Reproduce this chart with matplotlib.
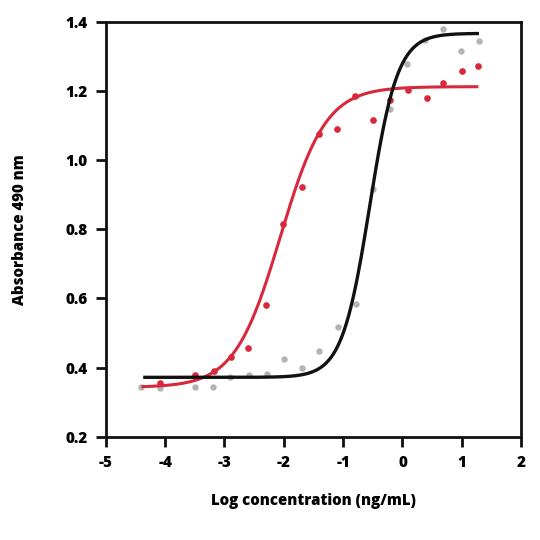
import numpy as np
import matplotlib
matplotlib.use("Agg")
import matplotlib.pyplot as plt

# data
red_x = [-4.085, -3.49, -3.18, -2.89, -2.60, -2.30, -2.01, -1.70, -1.41, -1.11,
         -0.80, -0.50, -0.21, 0.10, 0.41, 0.68, 1.00, 1.28]
red_y = [0.357, 0.378, 0.390, 0.430, 0.457, 0.582, 0.816, 0.923, 1.076, 1.090,
         1.186, 1.116, 1.173, 1.203, 1.178, 1.224, 1.257, 1.272]

gray_x = [-4.40, -4.085, -3.49, -3.20, -2.90, -2.59, -2.29, -2.00, -1.70, -1.41,
          -1.085, -0.78, -0.50, -0.21, 0.08, 0.38, 0.69, 0.98, 1.29]
gray_y = [0.345, 0.341, 0.344, 0.344, 0.373, 0.380, 0.382, 0.425, 0.400, 0.448,
          0.517, 0.583, 0.917, 1.147, 1.277, 1.347, 1.380, 1.316, 1.345]

# 4PL fit parameters (bottom, top, log EC50, hill slope), x range of the fit
red_fit = [0.343, 1.212, -2.06, 1.13]
red_range = [-4.40, 1.28]
black_fit = [0.372, 1.366, -0.55, 1.85]
black_range = [-4.37, 1.29]

x_ticks = [-5, -4, -3, -2, -1, 0, 1, 2]
y_ticks = [0.2, 0.4, 0.6, 0.8, 1.0, 1.2, 1.4]

RED = "#d8283c"
GRAY = "#b3b3b3"

plt.rcParams['font.family'] = ['Open Sans', 'DejaVu Sans']
plt.rcParams['font.weight'] = 'bold'


def four_pl(x, p):
    bottom, top, c, h = p
    return bottom + (top - bottom) / (1 + 10 ** ((c - x) * h))


fig = plt.figure(figsize=(5.4, 5.4), dpi=100)
ax = fig.add_axes([0.196, 0.191, 0.769, 0.769])

ax.plot(gray_x, gray_y, 'o', color=GRAY, ms=4.6, mec='none', zorder=2)
ax.plot(red_x, red_y, 'o', color=RED, ms=4.8, mec='none', zorder=4)

xs = np.linspace(red_range[0], red_range[1], 300)
ax.plot(xs, four_pl(xs, red_fit), color=RED, lw=2.2, zorder=3, solid_capstyle='butt')
xs = np.linspace(black_range[0], black_range[1], 300)
ax.plot(xs, four_pl(xs, black_fit), color='#111111', lw=2.4, zorder=5, solid_capstyle='butt')

ax.set_xlim(-5, 2)
ax.set_ylim(0.2, 1.4)
ax.set_xticks(x_ticks)
ax.set_xticklabels([str(t) for t in x_ticks])
ax.set_yticks(y_ticks)
ax.set_yticklabels(["%.1f" % t for t in y_ticks])

for s in ax.spines.values():
    s.set_linewidth(2.0)
    s.set_color('#111111')
ax.tick_params(direction='out', length=7, width=2.0, color='#111111',
               labelsize=11, pad=6)
for lab in ax.get_xticklabels() + ax.get_yticklabels():
    lab.set_fontweight('heavy')

ax.set_xlabel("Log concentration (ng/mL)", fontsize=10.8, fontweight='heavy', labelpad=16)
ax.set_ylabel("Absorbance 490 nm", fontsize=10.8, fontweight='heavy', labelpad=27)

fig.savefig("out.png", dpi=100)
